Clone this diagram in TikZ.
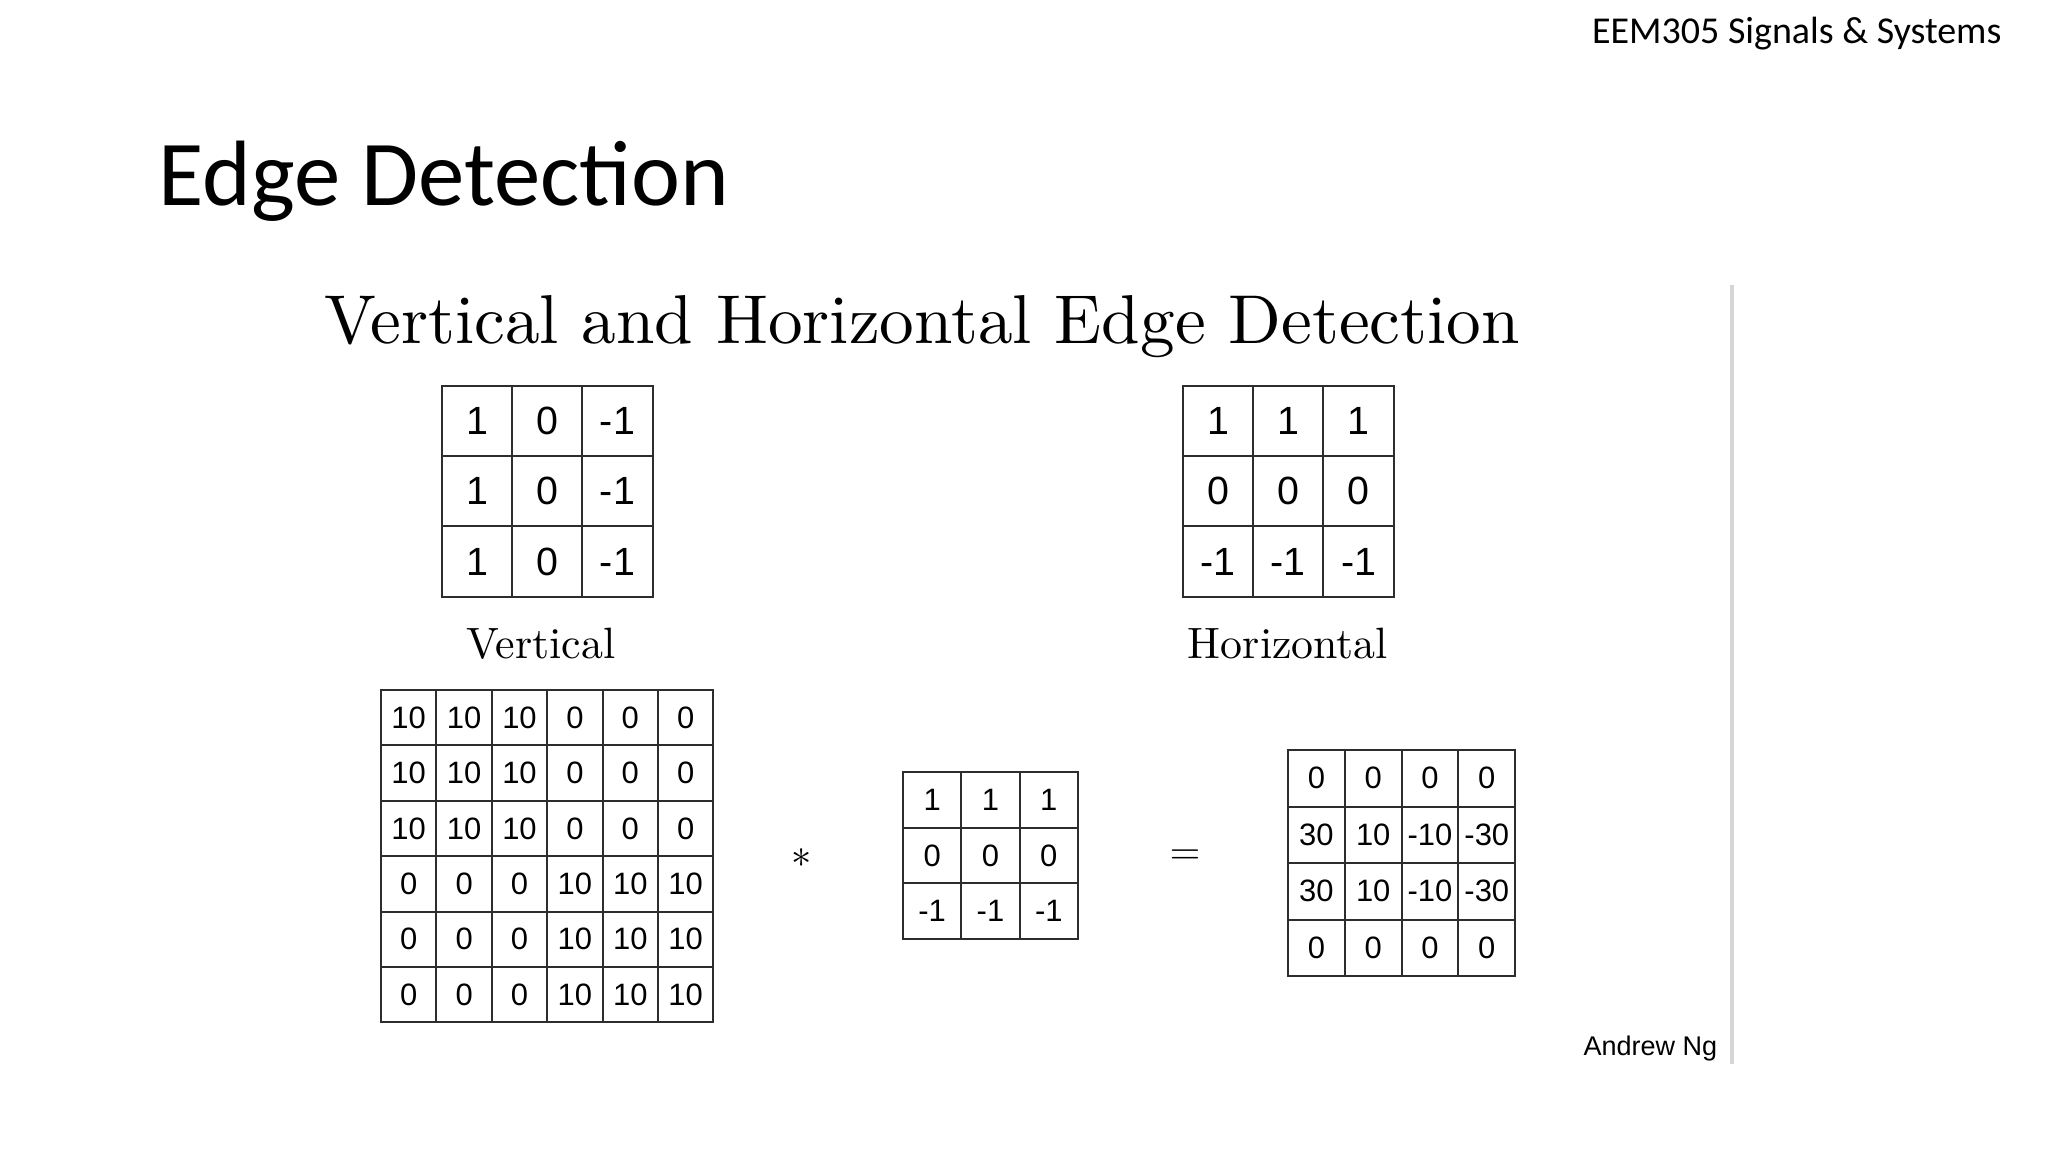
\documentclass[tikz,border=0pt]{standalone}
\usepackage{fontspec}
\newfontfamily\slidefont{Carlito}
\newfontfamily\arialfont{Liberation Sans}
\newfontfamily\romanten{lmroman10-regular.otf}
\usetikzlibrary{positioning}
\definecolor{gridclr}{RGB}{45,45,45}
\definecolor{rulegray}{RGB}{214,214,214}
\tikzset{
  % slide texts
  slidehead/.style  = {font=\slidefont\fontsize{13.5}{16}\selectfont, anchor=base east, inner sep=0pt},
  slidetitle/.style = {font=\slidefont\fontsize{33}{40}\selectfont, anchor=base west, inner sep=0pt},
  figtitle/.style   = {font=\romanten\fontsize{24.6}{30}\selectfont, anchor=base, inner sep=0pt},
  figlabel/.style   = {font=\romanten\fontsize{15.6}{19}\selectfont, anchor=base, inner sep=0pt},
  credit/.style     = {font=\arialfont\fontsize{9.6}{12}\selectfont, anchor=base west, inner sep=0pt},
  opsign/.style     = {font=\fontsize{14}{16}\selectfont, inner sep=0pt},
  % matrix cells
  bigcell/.style    = {draw=gridclr, line width=0.75pt, inner sep=0pt,
                       minimum width=0.8775cm, minimum height=0.8775cm,
                       font=\arialfont\fontsize{14}{16}\selectfont},
  smallcell/.style  = {draw=gridclr, line width=0.7pt, inner sep=0pt,
                       font=\arialfont\fontsize{11}{13}\selectfont},
}
\begin{document}
\begin{tikzpicture}[x=0.0125cm, y=-0.0125cm]
  \useasboundingbox (0,0) rectangle (2048,1152);
  % cell sizes (pixels)
  \pgfmathsetmacro{\cA}{70.2}
  \pgfmathsetmacro{\cB}{55.4}
  % header and slide title
  \node[slidehead] (head) at (2002,43) {EEM305 Signals \& Systems};
  \node[slidetitle] (title) at (158,205) {Edge Detection};
  \node[figtitle] (figtitle) at (922,343) {Vertical and Horizontal Edge Detection};
  % vertical filter
  \foreach \row [count=\i] in {{1,0,-1},{1,0,-1},{1,0,-1}}
    \foreach \val [count=\j] in \row
      \node[bigcell] (v-\i-\j) at ({442+\cA*(\j-0.5)},{386+\cA*(\i-0.5)}) {\val};
  \node[figlabel] (vlab) at (541,658) {Vertical};
  % horizontal filter
  \foreach \row [count=\i] in {{1,1,1},{0,0,0},{-1,-1,-1}}
    \foreach \val [count=\j] in \row
      \node[bigcell] (h-\i-\j) at ({1183+\cA*(\j-0.5)},{386+\cA*(\i-0.5)}) {\val};
  \node[figlabel] (hlab) at (1288,658) {Horizontal};
  % input image 6x6
  \foreach \row [count=\i] in {{10,10,10,0,0,0},{10,10,10,0,0,0},{10,10,10,0,0,0},
                               {0,0,0,10,10,10},{0,0,0,10,10,10},{0,0,0,10,10,10}}
    \foreach \val [count=\j] in \row
      \node[smallcell, minimum width=0.6925cm, minimum height=0.6925cm]
        (img-\i-\j) at ({381+\cB*(\j-0.5)},{690+\cB*(\i-0.5)}) {\val};
  \node[opsign] (conv) at (802,858) {$\ast$};
  % kernel 3x3
  \foreach \row [count=\i] in {{1,1,1},{0,0,0},{-1,-1,-1}}
    \foreach \val [count=\j] in \row
      \node[smallcell, minimum width=0.729cm, minimum height=0.696cm]
        (k-\i-\j) at ({903+58.3*(\j-0.5)},{772+55.7*(\i-0.5)}) {\val};
  \node[opsign] (eq) at (1185,857) {$=$};
  % output 4x4
  \foreach \row [count=\i] in {{0,0,0,0},{30,10,-10,-30},{30,10,-10,-30},{0,0,0,0}}
    \foreach \val [count=\j] in \row
      \node[smallcell, minimum width=0.71cm, minimum height=0.706cm]
        (out-\i-\j) at ({1288+56.8*(\j-0.5)},{750+56.5*(\i-0.5)}) {\val};
  % credit and side rule
  \node[credit] (credit) at (1583,1055) {Andrew Ng};
  \draw[rulegray, line width=1.4pt] (1732,285) -- (1732,1064);
\end{tikzpicture}
\end{document}
